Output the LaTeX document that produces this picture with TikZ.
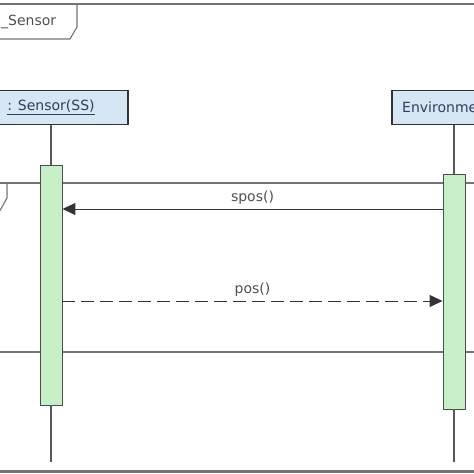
\documentclass[tikz,border=0pt]{standalone}
\usepackage{fontspec}
\setmainfont{DejaVu Sans}
\usepackage{tikz}
\usetikzlibrary{arrows.meta,calc}
\definecolor{headblue}{HTML}{D7E6F4}
\definecolor{barcolor}{HTML}{C8F0C8}
\definecolor{namecolor}{HTML}{2E3E5C}
\definecolor{msgcolor}{HTML}{505050}
\tikzstyle{framed}=[draw=gray!90!black, line width=1.8pt]
\tikzstyle{lifehead}=[draw=black!80, line width=1.2pt, fill=headblue, minimum height=34pt, inner sep=0pt, text=namecolor, font=\fontsize{14}{16}\selectfont]
\tikzstyle{actbar}=[draw=black!70, line width=0.9pt, fill=barcolor, minimum width=22pt, inner sep=0pt]
\tikzstyle{lifeline}=[draw=black!65, line width=1.1pt]
\tikzstyle{msg}=[draw=black!80, line width=1pt, -{Triangle[length=13pt,width=12pt]}]
\tikzstyle{msglabel}=[text=msgcolor, font=\fontsize{14}{16}\selectfont, inner sep=1pt]

\begin{document}
\begin{tikzpicture}[x=1pt, y=-1pt]
 \clip (0,0) rectangle (474,474);
%
 % outer frame and its label
 \draw[framed] (-5,4) -- (480,4);
 \draw[framed, line width=3pt] (-5,471) -- (480,471);
 \draw[framed, line width=1.1pt] (77,4) -- (77,27) -- (70,39) -- (-5,39);
 \node[anchor=west, text=msgcolor, font=\fontsize{14}{16}\selectfont, inner sep=0pt] (fname) at (1,22) {\_Sensor};
%
 % combined fragment
 \draw[draw=black!55, line width=1.1pt] (-5,183) -- (480,183);
 \draw[draw=black!55, line width=1.1pt] (-5,352) -- (480,352);
 \draw[draw=black!55, line width=1.1pt] (7,183) -- (7,198) -- (-2,214);
%
 % lifelines
 \node[lifehead, minimum width=154pt] (ss) at (51,107.5) {\underline{: Sensor(SS)}};
 \node[lifehead, minimum width=124pt] (env) at (454,107.5) {};
 \node[anchor=west, text=namecolor, font=\fontsize{14}{16}\selectfont, inner sep=0pt] (envname) at (402,107.5) {Environment};
 \node[actbar, minimum height=240pt] (ssbar) at (51,285) {};
 \node[actbar, minimum height=235pt] (envbar) at (454,291.5) {};
 \coordinate (ssend) at (51,462);
 \coordinate (envend) at (454,462);
 \draw[lifeline] (ss.south) -- (ssbar.north);
 \draw[lifeline] (ssbar.south) -- (ssend);
 \draw[lifeline] (env.south) -- (envbar.north);
 \draw[lifeline] (envbar.south) -- (envend);
%
 % messages
 \draw[msg] (envbar.west |- 0,209) -- (ssbar.east |- 0,209)
  node[msglabel, midway, above=3pt] (spos) {spos()};
 \draw[msg, dash pattern=on 13pt off 6pt] (ssbar.east |- 0,301) -- (envbar.west |- 0,301)
  node[msglabel, midway, above=3pt] (pos) {pos()};
\end{tikzpicture}
\end{document}
